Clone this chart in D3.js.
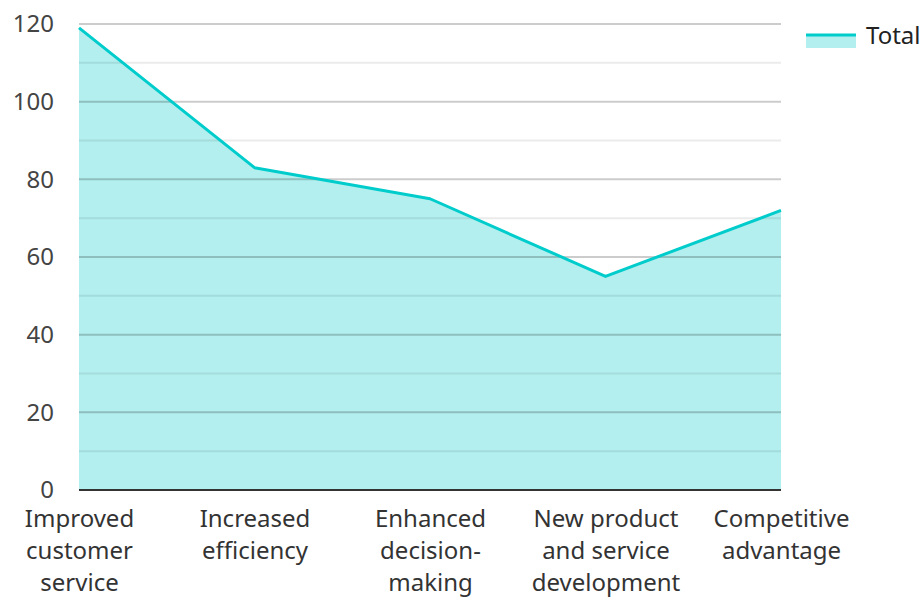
<!DOCTYPE html>
<html>
<head>
<meta charset="utf-8">
<script src="https://cdn.jsdelivr.net/npm/d3@7"></script>
<style>
  body { margin: 0; background: #fff; }
  svg text { font-family: "Noto Sans", "Open Sans", sans-serif; }
</style>
</head>
<body>
<svg id="chart" width="923" height="597"></svg>
<script>
const categories = ["Improved customer service", "Increased efficiency", "Enhanced decision-making", "New product and service development", "Competitive advantage"]
const totals = [119, 83, 75, 55, 72]
const y_ticks = [0, 20, 40, 60, 80, 100, 120]
const minor_ticks = [10, 30, 50, 70, 90, 110]
const series_name = "Total"

const svg = d3.select("#chart")
const margin = {left: 79, right: 142, top: 24, bottom: 107}
const width = 923 - margin.left - margin.right
const height = 597 - margin.top - margin.bottom
const font_size = 24

const x = d3.scalePoint().domain(categories).range([0, width]).padding(0)
const y = d3.scaleLinear().domain([0, 120]).range([height, 0])

const g = svg.append("g").attr("transform", `translate(${margin.left},${margin.top})`)

// area + line
const data = categories.map((c, i) => ({cat: c, val: totals[i]}))
g.append("path")
    .datum(data)
    .attr("fill", "#b2efee")
    .attr("d", d3.area().x(d => x(d.cat)).y0(y(0)).y1(d => y(d.val)))

// gridlines on top of the fill
g.selectAll(".minor").data(minor_ticks).join("line")
    .attr("x1", 0).attr("x2", width)
    .attr("y1", d => y(d)).attr("y2", d => y(d))
    .attr("stroke", "rgba(0,0,0,0.08)").attr("stroke-width", 2)
g.selectAll(".major").data(y_ticks.filter(t => t > 0)).join("line")
    .attr("x1", 0).attr("x2", width)
    .attr("y1", d => y(d)).attr("y2", d => y(d))
    .attr("stroke", "rgba(0,0,0,0.2)").attr("stroke-width", 2)

g.append("path")
    .datum(data)
    .attr("fill", "none")
    .attr("stroke", "#00cccc")
    .attr("stroke-width", 3)
    .attr("stroke-linejoin", "round")
    .attr("d", d3.line().x(d => x(d.cat)).y(d => y(d.val)))

// baseline
g.append("line")
    .attr("x1", 0).attr("x2", width)
    .attr("y1", y(0)).attr("y2", y(0))
    .attr("stroke", "#333").attr("stroke-width", 2)

// y axis labels
const yAxis = g.append("g")
    .call(d3.axisLeft(y).tickValues(y_ticks).tickSize(0).tickPadding(25))
yAxis.select(".domain").remove()
yAxis.selectAll("text")
    .attr("font-size", font_size)
    .attr("fill", "#444")
    .attr("font-family", "'Noto Sans', sans-serif")

// x axis labels with wrapping
const xAxis = g.append("g").attr("transform", `translate(0,${height})`)
    .call(d3.axisBottom(x).tickSize(0).tickPadding(0))
xAxis.select(".domain").remove()
xAxis.selectAll("text")
    .attr("dy", null)
    .attr("font-size", font_size)
    .attr("fill", "#333")
    .attr("font-family", "'Noto Sans', sans-serif")
    .call(wrap, 160)

function wrap(texts, max_w){
    texts.each(function(){
        const text = d3.select(this)
        const parts = text.text().split(/(?<=-)|\s+/)
        text.text(null)
        const lines = []
        let cur = ""
        const probe = text.append("tspan")
        for(const p of parts){
            const sep = (cur === "" || cur.endsWith("-")) ? "" : " "
            const trial = cur + sep + p
            probe.text(trial)
            if(probe.node().getComputedTextLength() > max_w && cur !== ""){
                lines.push(cur)
                cur = p
            }else{
                cur = trial
            }
        }
        lines.push(cur)
        probe.remove()
        lines.forEach((l, i) => {
            text.append("tspan")
                .attr("x", 0)
                .attr("y", 37 + i * 32)
                .text(l)
        })
    })
}

// legend
const legend = svg.append("g").attr("transform", "translate(806,34)")
legend.append("rect").attr("x", 0).attr("y", 0).attr("width", 50).attr("height", 14).attr("fill", "#b2efee")
legend.append("line").attr("x1", 0).attr("x2", 50).attr("y1", 1).attr("y2", 1)
    .attr("stroke", "#00cccc").attr("stroke-width", 3)
legend.append("text").attr("x", 60).attr("y", 10)
    .attr("font-size", font_size).attr("fill", "#222")
    .text(series_name)
</script>
</body>
</html>
